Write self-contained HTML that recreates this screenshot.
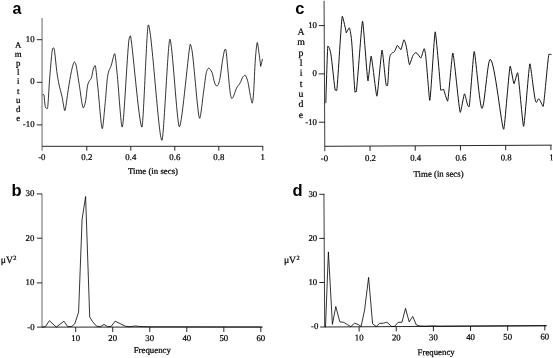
<!DOCTYPE html>
<html><head><meta charset="utf-8"><title>Figure</title>
<style>
html,body{margin:0;padding:0;background:#fff;}
body{width:553px;height:358px;overflow:hidden;}
svg{display:block;}
.t{font-family:"Liberation Serif",serif;text-rendering:geometricPrecision;fill:#000;stroke:#000;stroke-width:0.22;}
.b{font-family:"Liberation Sans",sans-serif;font-weight:bold;fill:#000;}
.cv{fill:none;stroke:#000;stroke-width:0.8;stroke-linejoin:round;stroke-linecap:round;}
</style></head><body>
<svg width="553" height="358" viewBox="0 0 553 358">
<rect width="553" height="358" fill="#fff"/>
<line x1="42.05" y1="18" x2="42.05" y2="150.7" stroke="#333" stroke-width="0.75"/>
<line x1="42.05" y1="146.3" x2="263.2" y2="146.3" stroke="#111" stroke-width="0.9"/>
<line x1="36.8" y1="39.7" x2="42.05" y2="39.7" stroke="#111" stroke-width="0.9"/>
<text x="34.6" y="41.8" text-anchor="end" font-size="8.8" class="t">10</text>
<line x1="36.8" y1="82.3" x2="42.05" y2="82.3" stroke="#111" stroke-width="0.9"/>
<text x="34.6" y="84.4" text-anchor="end" font-size="8.8" class="t">0</text>
<line x1="36.8" y1="124.9" x2="42.05" y2="124.9" stroke="#111" stroke-width="0.9"/>
<text x="34.6" y="127" text-anchor="end" font-size="8.8" class="t">-10</text>
<text x="41.8" y="159.8" text-anchor="middle" font-size="8.8" class="t">-0</text>
<line x1="86.8" y1="146.3" x2="86.8" y2="150.7" stroke="#111" stroke-width="0.9"/>
<text x="86.8" y="159.8" text-anchor="middle" font-size="8.8" class="t">0.2</text>
<line x1="130.8" y1="146.3" x2="130.8" y2="150.7" stroke="#111" stroke-width="0.9"/>
<text x="130.8" y="159.8" text-anchor="middle" font-size="8.8" class="t">0.4</text>
<line x1="174.8" y1="146.3" x2="174.8" y2="150.7" stroke="#111" stroke-width="0.9"/>
<text x="174.8" y="159.8" text-anchor="middle" font-size="8.8" class="t">0.6</text>
<line x1="218.8" y1="146.3" x2="218.8" y2="150.7" stroke="#111" stroke-width="0.9"/>
<text x="218.8" y="159.8" text-anchor="middle" font-size="8.8" class="t">0.8</text>
<line x1="262.8" y1="146.3" x2="262.8" y2="150.7" stroke="#111" stroke-width="0.9"/>
<text x="262.8" y="159.8" text-anchor="middle" font-size="8.8" class="t">1</text>
<text x="153" y="173.9" text-anchor="middle" font-size="8.8" class="t">Time (in secs)</text>
<text x="18.2" y="47.5" text-anchor="middle" font-size="8.8" class="t">A</text>
<text x="18.2" y="56.74" text-anchor="middle" font-size="8.8" class="t">m</text>
<text x="18.2" y="65.98" text-anchor="middle" font-size="8.8" class="t">p</text>
<text x="18.2" y="75.22" text-anchor="middle" font-size="8.8" class="t">l</text>
<text x="18.2" y="84.46" text-anchor="middle" font-size="8.8" class="t">i</text>
<text x="18.2" y="93.7" text-anchor="middle" font-size="8.8" class="t">t</text>
<text x="18.2" y="102.94" text-anchor="middle" font-size="8.8" class="t">u</text>
<text x="18.2" y="112.18" text-anchor="middle" font-size="8.8" class="t">d</text>
<text x="18.2" y="121.42" text-anchor="middle" font-size="8.8" class="t">e</text>
<path d="M42.7 94.9C42.7 94.9 43.57 93.32 44 95.3C44.4 97.12 44.8 104.17 45.2 106.3C45.6 108.43 46.11 108.1 46.4 108.1C46.74 108.1 47.33 110.38 47.8 106.3C48.33 101.64 48.87 89.04 49.4 81.9C50.1 72.54 50.8 63.91 51.5 56.8C51.9 52.74 52.41 48.4 52.7 48.4C53.08 48.4 53.77 46.61 54.3 49.6C55.13 54.27 55.97 65.17 56.8 71.4C57.5 76.63 58.2 80.62 58.9 84C59.93 88.99 60.97 91.84 62 96.5C62.93 100.71 64.13 110.6 64.8 110.6C65.64 110.6 67.13 96.23 68.3 89.3C69.33 83.16 70.37 76.1 71.4 71.4C72.37 67 73.6 62 74.3 62C74.71 62 75.43 62.39 76 64.9C76.93 69.03 77.87 76.4 78.8 81.9C80.3 90.74 82.22 107.9 83.3 107.9C83.88 107.9 84.9 104.66 85.7 100.5C86.37 97.03 87.03 87.63 87.7 85C89 79.87 90.3 80.89 91.6 77.2C92.13 75.69 92.67 71.12 93.2 69.4C93.87 67.25 94.72 65.6 95.2 65.6C95.75 65.6 96.73 77.19 97.5 84C99.1 98.22 101.15 128.7 102.3 128.7C103.02 128.7 104.3 111.49 105.3 101.6C106.07 94.02 106.83 80.99 107.6 76.3C108.8 68.96 110 69.32 111.2 65.5C112.37 61.79 113.86 53.7 114.7 53.7C115.25 53.7 116.23 64.8 117 72.3C118.73 89.26 120.95 127.1 122.2 127.1C123.74 127.1 126.47 66.73 128.6 43C129.2 36.33 130.18 35.9 130.4 35.9C131.78 35.9 139.14 127.1 141.9 127.1C143.44 127.1 146.76 24.9 148.3 24.9C151.56 24.9 158.64 140.3 161.9 140.3C163.82 140.3 167.98 39.2 169.9 39.2C172.18 39.2 177.12 126.8 179.4 126.8C182.02 126.8 188.99 44.2 190.3 44.2C190.55 44.2 191.7 47.57 192.4 53.1C194.83 72.31 197.95 118.4 199.7 118.4C200.68 118.4 202.43 99.76 203.8 90.3C204.63 84.53 205.47 76.38 206.3 72.7C207.13 69.02 208.2 68.2 208.8 68.2C209.59 68.2 211 69.93 212.1 72.7C212.93 74.8 213.77 80.44 214.6 82.8C215.33 84.88 216.27 86 216.8 86C217.47 86 218.67 84.47 219.6 80.3C220.6 75.83 221.6 66.16 222.6 60.1C223.27 56.06 223.93 52.19 224.6 50C225 48.69 225.51 49.6 225.8 49.6C226.26 49.6 227.07 61.48 227.7 67.7C228.53 75.88 229.37 86.69 230.2 92.8C230.77 96.96 231.49 98.5 231.9 98.5C232.26 98.5 232.9 97.71 233.4 96.6C234.43 94.31 235.47 90.4 236.5 88.3C237.73 85.8 238.97 85.01 240.2 82.8C241.03 81.31 241.87 78.52 242.7 77.2C243.47 75.99 244.45 75.2 245 75.2C245.67 75.2 246.87 77.96 247.8 81.5C248.63 84.66 249.47 91.19 250.3 95.3C250.93 98.42 251.74 103.2 252.2 103.2C252.54 103.2 253.13 99.29 253.6 92.8C254.17 84.92 254.73 67.8 255.3 60.1C255.97 51.04 256.82 42.5 257.3 42.5C257.73 42.5 258.5 49.68 259.1 53.9C259.63 57.65 260.7 66.4 260.7 66.4C260.7 66.4 262.4 59.3 262.4 59.3" class="cv"/>
<text x="12.6" y="13.6" text-anchor="start" font-size="16" class="b">a</text>
<line x1="318.8" y1="25.6" x2="324.8" y2="25.6" stroke="#111" stroke-width="0.9"/>
<text x="317" y="28" text-anchor="end" font-size="8.8" class="t">10</text>
<line x1="318.8" y1="73.9" x2="324.8" y2="73.9" stroke="#111" stroke-width="0.9"/>
<text x="317" y="76.3" text-anchor="end" font-size="8.8" class="t">0</text>
<line x1="318.8" y1="122.2" x2="324.8" y2="122.2" stroke="#111" stroke-width="0.9"/>
<text x="317" y="124.6" text-anchor="end" font-size="8.8" class="t">-10</text>
<text x="301" y="34.9" text-anchor="middle" font-size="9.8" class="t">A</text>
<text x="301" y="45.27" text-anchor="middle" font-size="9.8" class="t">m</text>
<text x="301" y="55.64" text-anchor="middle" font-size="9.8" class="t">p</text>
<text x="301" y="66.01" text-anchor="middle" font-size="9.8" class="t">l</text>
<text x="301" y="76.38" text-anchor="middle" font-size="9.8" class="t">i</text>
<text x="301" y="86.75" text-anchor="middle" font-size="9.8" class="t">t</text>
<text x="301" y="97.12" text-anchor="middle" font-size="9.8" class="t">u</text>
<text x="301" y="107.49" text-anchor="middle" font-size="9.8" class="t">d</text>
<text x="301" y="117.86" text-anchor="middle" font-size="9.8" class="t">e</text>
<g transform="rotate(-0.29 324.8 146.3)">
<line x1="324.8" y1="146.3" x2="551.7" y2="146.3" stroke="#111" stroke-width="0.9"/>
<line x1="324.8" y1="0.8" x2="324.8" y2="151.2" stroke="#1a1a1a" stroke-width="0.85"/>
<text x="324.4" y="161.3" text-anchor="middle" font-size="8.8" class="t">-0</text>
<line x1="370.02" y1="146.3" x2="370.02" y2="151.2" stroke="#111" stroke-width="0.9"/>
<text x="370.42" y="161.3" text-anchor="middle" font-size="8.8" class="t">0.2</text>
<line x1="415.24" y1="146.3" x2="415.24" y2="151.2" stroke="#111" stroke-width="0.9"/>
<text x="415.64" y="161.3" text-anchor="middle" font-size="8.8" class="t">0.4</text>
<line x1="460.46" y1="146.3" x2="460.46" y2="151.2" stroke="#111" stroke-width="0.9"/>
<text x="460.86" y="161.3" text-anchor="middle" font-size="8.8" class="t">0.6</text>
<line x1="505.68" y1="146.3" x2="505.68" y2="151.2" stroke="#111" stroke-width="0.9"/>
<text x="506.08" y="161.3" text-anchor="middle" font-size="8.8" class="t">0.8</text>
<line x1="550.9" y1="146.3" x2="550.9" y2="151.2" stroke="#111" stroke-width="0.9"/>
<text x="551.3" y="161.3" text-anchor="middle" font-size="8.8" class="t">1</text>
<text x="438.4" y="177.4" text-anchor="middle" font-size="8.8" class="t">Time (in secs)</text>
</g>
<path d="M325.8 102.8C325.8 102.8 327.5 46.1 327.8 46.1C328.25 46.1 329.8 47.71 330.8 53.7C332.2 62.08 333.6 79.53 335 89.2C335.33 91.5 335.6 89.6 336 89.6C336.4 89.6 336.67 92.48 337 88.6C338.77 68.04 341.5 16.3 342.3 16.3C342.9 16.3 346.3 32.8 346.3 32.8C346.3 32.8 348.85 27.8 349.3 27.8C349.66 27.8 350.9 32.67 351.7 41.8C352.73 53.6 353.77 77.48 354.8 90.6C355.07 93.98 355.28 91.3 355.6 91.3C355.96 91.3 356.2 93.2 356.5 90.2C358.53 69.87 361.69 21.3 362.6 21.3C363.41 21.3 367.19 80.9 368 80.9C368.47 80.9 370.63 56.1 371.1 56.1C371.97 56.1 376.03 96.2 376.9 96.2C377.68 96.2 381.32 50.1 382.1 50.1C382.69 50.1 384.7 74.85 386 84.3C386.3 86.48 386.54 85 386.9 85C387.22 85 387.43 87.2 387.7 84.5C388.27 78.77 388.83 64.01 389.4 59.7C390.2 53.61 391 54.58 391.8 53.3C392.67 51.91 393.53 52.92 394.4 51.7C395.4 50.29 396.95 45.4 397.4 45.4C397.92 45.4 400.38 49.7 400.9 49.7C401.35 49.7 403.45 39.8 403.9 39.8C404.2 39.8 405.23 41.84 405.9 44.8C407.1 50.14 408.96 64.7 409.5 64.7C410.01 64.7 411.77 57.82 412.9 55.7C413.9 53.82 414.85 52.7 415.9 52.7C417.62 52.7 420.06 58.1 420.8 58.1C421.31 58.1 423.69 48.7 424.2 48.7C424.44 48.7 425.27 51.78 425.8 56.7C427.13 69.01 429.2 100.4 429.8 100.4C430.61 100.4 434.39 31.8 435.2 31.8C436.02 31.8 440.7 90.2 440.7 90.2C440.7 90.2 443.7 89.4 443.7 89.4C443.7 89.4 447.02 101.2 447.6 101.2C448.38 101.2 452.02 53 452.8 53C453.93 53 459.18 112.4 460.3 112.4C460.93 112.4 463.87 93.8 464.5 93.8C465 93.8 466.7 102.3 467.8 105.6C468.07 106.4 468.28 106.1 468.6 106.1C468.92 106.1 469.13 108 469.4 105.4C471 89.8 473.48 51.5 474.2 51.5C475.37 51.5 479.66 108.4 482 108.4C484.46 108.4 487.49 59.4 490.2 59.4C494.65 59.4 501.68 129.3 503.7 129.3C504.68 129.3 509.22 66.2 510.2 66.2C510.77 66.2 513.43 83.7 514 83.7C514.54 83.7 517.06 72.7 517.6 72.7C518.5 72.7 522.7 126.4 523.6 126.4C524.55 126.4 528.95 63.8 529.9 63.8C530.74 63.8 533.63 93.62 535.5 100.9C536.63 105.32 537.77 98.06 538.9 98.9C540.3 99.93 542.47 106.5 543.1 106.5C543.93 106.5 546.77 70.29 548.6 55.6C548.93 52.93 549.27 54.55 549.6 54.4C550.13 54.15 551.2 54.4 551.2 54.4" class="cv" style="stroke-width:0.92"/>
<text x="295.3" y="13.8" text-anchor="start" font-size="16.5" class="b">c</text>
<line x1="42" y1="193.9" x2="42" y2="327.1" stroke="#333" stroke-width="0.75"/>
<line x1="37" y1="327.1" x2="262.8" y2="327.1" stroke="#111" stroke-width="0.9"/>
<line x1="36.8" y1="193.9" x2="42" y2="193.9" stroke="#111" stroke-width="0.9"/>
<text x="34.4" y="196.3" text-anchor="end" font-size="8.8" class="t">30</text>
<line x1="36.8" y1="238.2" x2="42" y2="238.2" stroke="#111" stroke-width="0.9"/>
<text x="34.4" y="240.6" text-anchor="end" font-size="8.8" class="t">20</text>
<line x1="36.8" y1="282.9" x2="42" y2="282.9" stroke="#111" stroke-width="0.9"/>
<text x="34.4" y="285.3" text-anchor="end" font-size="8.8" class="t">10</text>
<text x="34.6" y="329.9" text-anchor="end" font-size="8.8" class="t">-0</text>
<line x1="75.7" y1="327.1" x2="75.7" y2="332" stroke="#111" stroke-width="0.9"/>
<text x="75.7" y="341.2" text-anchor="middle" font-size="8.8" class="t">10</text>
<line x1="112.73" y1="327.1" x2="112.73" y2="332" stroke="#111" stroke-width="0.9"/>
<text x="112.73" y="341.2" text-anchor="middle" font-size="8.8" class="t">20</text>
<line x1="149.76" y1="327.1" x2="149.76" y2="332" stroke="#111" stroke-width="0.9"/>
<text x="149.76" y="341.2" text-anchor="middle" font-size="8.8" class="t">30</text>
<line x1="186.79" y1="327.1" x2="186.79" y2="332" stroke="#111" stroke-width="0.9"/>
<text x="186.79" y="341.2" text-anchor="middle" font-size="8.8" class="t">40</text>
<line x1="223.82" y1="327.1" x2="223.82" y2="332" stroke="#111" stroke-width="0.9"/>
<text x="223.82" y="341.2" text-anchor="middle" font-size="8.8" class="t">50</text>
<line x1="260.85" y1="327.1" x2="260.85" y2="332" stroke="#111" stroke-width="0.9"/>
<text x="260.85" y="341.2" text-anchor="middle" font-size="8.8" class="t">60</text>
<text x="152.3" y="353.1" text-anchor="middle" font-size="8.8" class="t">Frequency</text>
<path d="M42.3 327.2L45.4 326.6L49.4 320.7L56.3 327.1L63.9 321.2L67.8 326.7L71.8 326.4L74.8 323.8L78.6 312L82.1 219.3L85.6 196.5L89.7 317L92.7 321.8L96.6 326.2L100.6 326.7L104 324.4L107.6 326.7L111.2 326.4L115.1 321.2L125.5 326.3L130 326.7L135.4 326L140 326.5L150 326.8L261 327" class="cv"/>
<text x="11.4" y="195.9" text-anchor="start" font-size="16.5" class="b">b</text>
<text x="0.7" y="263" font-size="9.7" class="t">μV<tspan dx="0.4" dy="-3.3" font-size="6.4">2</tspan></text>
<line x1="319.3" y1="194.3" x2="324.5" y2="194.3" stroke="#111" stroke-width="0.9"/>
<text x="317.2" y="196.7" text-anchor="end" font-size="8.8" class="t">30</text>
<line x1="319.3" y1="238.4" x2="324.5" y2="238.4" stroke="#111" stroke-width="0.9"/>
<text x="317.2" y="240.8" text-anchor="end" font-size="8.8" class="t">20</text>
<line x1="319.3" y1="282.5" x2="324.5" y2="282.5" stroke="#111" stroke-width="0.9"/>
<text x="317.2" y="284.9" text-anchor="end" font-size="8.8" class="t">10</text>
<text x="318.3" y="329.3" text-anchor="end" font-size="8.8" class="t">-0</text>
<g transform="rotate(-0.33 324.5 327)">
<line x1="320.2" y1="327" x2="546.8" y2="327" stroke="#111" stroke-width="0.9"/>
<line x1="324.7" y1="194.3" x2="324.7" y2="327" stroke="#1a1a1a" stroke-width="0.85"/>
<line x1="359.1" y1="327" x2="359.1" y2="331.8" stroke="#111" stroke-width="0.9"/>
<text x="359.1" y="340.8" text-anchor="middle" font-size="8.8" class="t">10</text>
<line x1="396.24" y1="327" x2="396.24" y2="331.8" stroke="#111" stroke-width="0.9"/>
<text x="396.24" y="340.8" text-anchor="middle" font-size="8.8" class="t">20</text>
<line x1="433.38" y1="327" x2="433.38" y2="331.8" stroke="#111" stroke-width="0.9"/>
<text x="433.38" y="340.8" text-anchor="middle" font-size="8.8" class="t">30</text>
<line x1="470.52" y1="327" x2="470.52" y2="331.8" stroke="#111" stroke-width="0.9"/>
<text x="470.52" y="340.8" text-anchor="middle" font-size="8.8" class="t">40</text>
<line x1="507.66" y1="327" x2="507.66" y2="331.8" stroke="#111" stroke-width="0.9"/>
<text x="507.66" y="340.8" text-anchor="middle" font-size="8.8" class="t">50</text>
<line x1="544.8" y1="327" x2="544.8" y2="331.8" stroke="#111" stroke-width="0.9"/>
<text x="544.8" y="340.8" text-anchor="middle" font-size="8.8" class="t">60</text>
<text x="436" y="355.75" text-anchor="middle" font-size="8.8" class="t">Frequency</text>
</g>
<path d="M325.5 326.9L328.4 251.9L332.4 324.4L335.8 306.5L339.8 321.8L343.8 322.4L347.7 324.8L350.7 326.6L354.7 323.2L358.7 324.8L361.1 326.5L364.6 309.9L368.6 277.4L372.6 323.8L376.2 326.5L379.6 323.4L383.5 323.2L386.9 322.2L391.5 326.4L394.5 326.4L398.1 322.4L402 322.2L405.5 308.4L409.2 321.9L412.7 316.4L416.4 325L420 326L425 326.2L433 325.9L440 326.2L470 326.05L546 325.7" class="cv"/>
<text x="292.5" y="196.2" text-anchor="start" font-size="16.5" class="b">d</text>
<text x="283.9" y="263" font-size="9.7" class="t">μV<tspan dx="0.4" dy="-3.3" font-size="6.4">2</tspan></text>
</svg>
</body></html>
